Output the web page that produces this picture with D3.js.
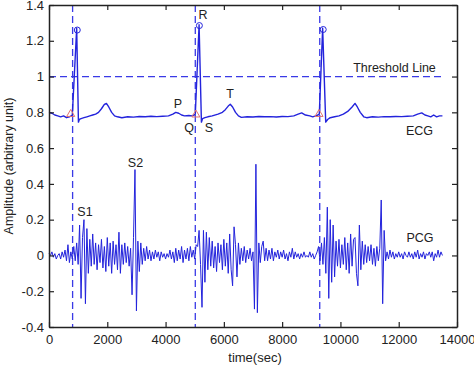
<!DOCTYPE html>
<html>
<head>
<meta charset="utf-8">
<script src="https://cdn.jsdelivr.net/npm/d3@7"></script>
<style>
  body { margin: 0; background: #fff; }
  text { font-family: "Liberation Sans", Arial, sans-serif; fill: #222; }
</style>
</head>
<body>
<svg id="chart" width="474" height="370"></svg>
<script>
// ---- data ----
var xTicks = [0, 2000, 4000, 6000, 8000, 10000, 12000, 14000];
var yTicks = [-0.4, -0.2, 0, 0.2, 0.4, 0.6, 0.8, 1, 1.2, 1.4];

// ECG key points
var ecgTime = [0, 100, 200, 300, 400, 500, 600, 700, 760, 800,
  950, 1010, 1040, 1100, 1200, 1300, 1400, 1500, 1600, 1700,
  1800, 1900, 1970, 2050, 2150, 2250, 2350, 2500, 2700, 2900,
  3100, 3300, 3500, 3700, 3900, 4100, 4250, 4350, 4450, 4550,
  4650, 4800, 4900, 4980, 5020, 5150, 5230, 5270, 5350, 5450,
  5600, 5800, 5950, 6050, 6150, 6220, 6300, 6400, 6500, 6600,
  6800, 7000, 7200, 7400, 7600, 7800, 8000, 8200, 8400, 8550,
  8670, 8800, 8950, 9050, 9150, 9230, 9275, 9390, 9495, 9560,
  9650, 9800, 9950, 10100, 10250, 10400, 10500, 10580, 10680, 10800,
  10900, 11100, 11300, 11500, 11700, 11900, 12100, 12300, 12500, 12650,
  12790, 12900, 13000, 13100, 13200, 13300, 13400, 13500];
var ecgValue = [0.80, 0.795, 0.785, 0.78, 0.775, 0.78, 0.77, 0.775, 0.78, 0.785,
  1.27, 0.745, 0.76, 0.765, 0.77, 0.775, 0.78, 0.785, 0.79, 0.80,
  0.82, 0.845, 0.85, 0.83, 0.80, 0.78, 0.775, 0.77, 0.775, 0.773,
  0.777, 0.775, 0.778, 0.776, 0.778, 0.78, 0.79, 0.80, 0.795, 0.785,
  0.78, 0.782, 0.78, 0.785, 0.79, 1.29, 0.745, 0.765, 0.77, 0.775,
  0.78, 0.79, 0.80, 0.815, 0.835, 0.845, 0.83, 0.80, 0.78, 0.772,
  0.775, 0.774, 0.777, 0.775, 0.776, 0.774, 0.777, 0.776, 0.78, 0.79,
  0.797, 0.785, 0.78, 0.775, 0.78, 0.785, 0.79, 1.27, 0.745, 0.76,
  0.77, 0.775, 0.78, 0.79, 0.805, 0.83, 0.85, 0.83, 0.80, 0.775,
  0.77, 0.775, 0.773, 0.776, 0.775, 0.777, 0.776, 0.778, 0.78, 0.79,
  0.797, 0.785, 0.78, 0.775, 0.785, 0.775, 0.78, 0.78];

// PCG samples, one every pcgStep time units starting at 0
var pcgStep = 50;
var pcgValue = [
  0.01, 0.0, 0.02, -0.01, 0.01, -0.02, 0.0, 0.01, -0.02, 0.02,
  -0.01, 0.03, -0.03, 0.06, -0.04, 0.02, -0.02, 0.05, -0.03, 0.07,
  -0.05, 0.17, -0.24, 0.1, 0.2, -0.27, 0.15, -0.1, 0.09, -0.06,
  0.12, -0.05, 0.07, -0.08, 0.06, -0.04, 0.09, -0.07, 0.05, -0.09,
  0.1, -0.06, 0.07, -0.1, 0.08, -0.05, 0.06, -0.08, 0.13, -0.1,
  0.06, -0.05, 0.07, -0.04, 0.05, -0.06, 0.04, -0.22, 0.1, 0.48,
  -0.31, 0.08, -0.09, 0.07, -0.05, 0.04, -0.03, 0.05, -0.02, 0.03,
  -0.03, 0.02, -0.02, 0.03, -0.01, 0.02, -0.03, 0.02, -0.01, 0.01,
  -0.02, 0.01, -0.01, 0.03, -0.02, 0.02, -0.04, 0.04, -0.03, 0.03,
  -0.02, 0.05, -0.04, 0.03, -0.02, 0.04, -0.03, 0.05, -0.01, 0.03,
  -0.02, 0.06, 0.05, 0.14, -0.05, -0.29, 0.14, -0.15, 0.13, -0.08,
  0.1, -0.06, 0.08, -0.07, 0.05, -0.09, 0.07, -0.04, 0.06, -0.08,
  0.09, -0.06, 0.07, -0.1, 0.12, -0.08, -0.17, 0.16, 0.06, -0.12,
  0.07, -0.05, 0.04, -0.03, 0.05, -0.04, 0.03, -0.02, 0.04, -0.03,
  0.02, -0.3, 0.51, -0.32, 0.07, -0.04, 0.05, 0.08, -0.03, 0.04,
  -0.03, 0.03, -0.02, 0.04, -0.03, 0.02, -0.01, 0.03, -0.02, 0.02,
  -0.01, 0.03, -0.02, 0.01, -0.03, 0.02, -0.01, 0.04, -0.02, 0.02,
  -0.01, 0.01, -0.02, 0.01, -0.01, 0.02, -0.01, 0.0, -0.01, 0.02,
  -0.01, 0.01, -0.02, 0.0, 0.02, 0.05, -0.03, 0.07, -0.05, 0.1,
  -0.1, 0.27, -0.24, 0.2, -0.15, 0.17, -0.12, 0.08, -0.06, 0.09,
  -0.07, 0.06, -0.05, 0.1, -0.08, 0.07, -0.1, 0.12, -0.06, 0.09,
  0.1, -0.1, -0.17, 0.17, -0.08, 0.08, -0.05, 0.06, -0.04, 0.05,
  -0.03, 0.06, -0.05, 0.04, -0.06, 0.05, -0.03, 0.04, 0.31, -0.27,
  0.14, -0.03, 0.02, -0.02, 0.03, -0.01, 0.02, -0.02, 0.01, -0.01,
  0.02, -0.01, 0.01, -0.02, 0.02, 0.0, -0.01, 0.02, -0.01, 0.01,
  -0.02, 0.02, -0.01, 0.03, -0.02, 0.01, -0.01, 0.02, -0.02, 0.01,
  0.0, 0.02, -0.01, 0.02, -0.03, 0.01, -0.01, 0.03, -0.01, 0.02,
  0.0];

// detected events
var detectTime = [810, 5020, 9290];
var threshold = 1;
var thresholdEnd = 13500;
var rTime = [970, 5160, 9410];
var rValue = [1.26, 1.285, 1.263];
var qTime = [745, 5040, 9265];
var qValue = [0.79, 0.787, 0.79];

// annotations (data coords: x centre, y baseline)
var annText = ["R", "P", "Q", "S", "T", "Threshold Line", "ECG", "PCG", "S1", "S2"];
var annX = [5284, 4426, 4804, 5490, 6211, 11855, 12713, 12730, 1235, 2968];
var annY = [1.321, 0.824, 0.69, 0.69, 0.88, 1.025, 0.673, 0.075, 0.22, 0.494];

// ---- drawing ----
var svg = d3.select("#chart");
var mLeft = 49, mRight = 457, mTop = 5, mBottom = 327;
var blue = "#2323dc";
var dashBlue = "#3a3ae6";

var x = d3.scaleLinear().domain([0, 14000]).range([mLeft, mRight]);
var y = d3.scaleLinear().domain([-0.4, 1.4]).range([mBottom, mTop]);

var g = svg.append("g");

// vertical detection lines
g.selectAll(".det").data(detectTime).enter()
  .append("line").attr("class", "det")
  .attr("x1", function(d){ return x(d); })
  .attr("x2", function(d){ return x(d); })
  .attr("y1", mTop).attr("y2", mBottom)
  .attr("stroke", dashBlue).attr("stroke-width", 1.3)
  .attr("stroke-dasharray", "7,4");

// threshold line
g.append("line")
  .attr("x1", x(0)).attr("x2", x(thresholdEnd))
  .attr("y1", y(threshold)).attr("y2", y(threshold))
  .attr("stroke", dashBlue).attr("stroke-width", 1.3)
  .attr("stroke-dasharray", "7,4");

// PCG
var pcg = pcgValue.map(function(v, i){ return [i * pcgStep, v]; });
g.append("path").datum(pcg)
  .attr("fill", "none").attr("stroke", blue).attr("stroke-width", 1)
  .attr("d", d3.line().x(function(d){ return x(d[0]); }).y(function(d){ return y(d[1]); }));

// ECG
var ecg = ecgTime.map(function(t, i){ return [t, ecgValue[i]]; });
g.append("path").datum(ecg)
  .attr("fill", "none").attr("stroke", blue).attr("stroke-width", 1.4)
  .attr("stroke-linejoin", "round")
  .attr("d", d3.line().x(function(d){ return x(d[0]); }).y(function(d){ return y(d[1]); }));

// R peak circles
g.selectAll(".rpk").data(rTime).enter()
  .append("circle").attr("class", "rpk")
  .attr("cx", function(d){ return x(d); })
  .attr("cy", function(d, i){ return y(rValue[i]); })
  .attr("r", 3).attr("fill", "none").attr("stroke", blue).attr("stroke-width", 1);

// Q onset triangles
g.selectAll(".qpt").data(qTime).enter()
  .append("path").attr("class", "qpt")
  .attr("transform", function(d, i){ return "translate(" + x(d) + "," + y(qValue[i]) + ")"; })
  .attr("d", d3.symbol().type(d3.symbolTriangle).size(28))
  .attr("fill", "none").attr("stroke", "#e07070").attr("stroke-width", 1);

// annotations
g.selectAll(".ann").data(annText).enter()
  .append("text").attr("class", "ann")
  .attr("x", function(d, i){ return x(annX[i]); })
  .attr("y", function(d, i){ return y(annY[i]); })
  .attr("text-anchor", "middle")
  .attr("font-size", "12.5px")
  .text(function(d){ return d; });

// axes (ticks inside, matlab-like box)
var fmt = function(d){ return String(+d.toFixed(1)); };
svg.append("g").attr("transform", "translate(0," + mBottom + ")")
  .call(d3.axisBottom(x).tickValues(xTicks).tickFormat(fmt).tickSizeInner(-5).tickSizeOuter(0).tickPadding(8));
svg.append("g").attr("transform", "translate(" + mLeft + ",0)")
  .call(d3.axisLeft(y).tickValues(yTicks).tickFormat(fmt).tickSizeInner(-5).tickSizeOuter(0).tickPadding(5));
svg.append("g").attr("transform", "translate(0," + mTop + ")")
  .call(d3.axisTop(x).tickValues(xTicks).tickFormat("").tickSizeInner(-5).tickSizeOuter(0));
svg.append("g").attr("transform", "translate(" + mRight + ",0)")
  .call(d3.axisRight(y).tickValues(yTicks).tickFormat("").tickSizeInner(-5).tickSizeOuter(0));

svg.selectAll(".domain").attr("stroke", "#222").attr("stroke-width", 1.5);
svg.selectAll(".tick line").attr("stroke", "#222").attr("stroke-width", 1.2);
svg.selectAll(".tick text").attr("font-size", "13px")
  .attr("font-family", "'Liberation Sans', Arial, sans-serif").attr("fill", "#222");

// axis titles
svg.append("text")
  .attr("x", (mLeft + mRight) / 2 + 2).attr("y", 362)
  .attr("text-anchor", "middle").attr("font-size", "13px")
  .text("time(sec)");
svg.append("text")
  .attr("transform", "translate(13," + ((mTop + mBottom) / 2) + ") rotate(-90)")
  .attr("text-anchor", "middle").attr("font-size", "12.5px")
  .text("Amplitude (arbitrary unit)");
</script>
</body>
</html>
